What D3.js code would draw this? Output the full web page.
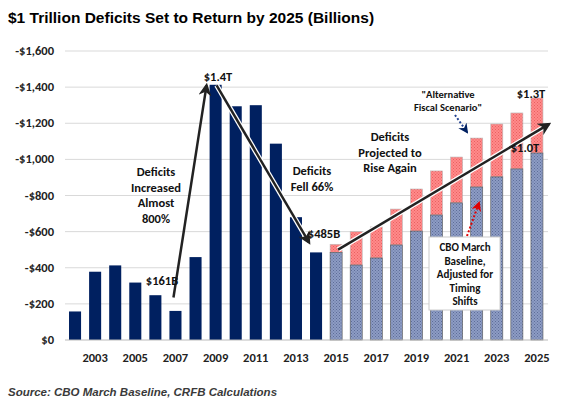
<!DOCTYPE html>
<html><head><meta charset="utf-8">
<script src="https://cdn.jsdelivr.net/npm/d3@7"></script>
<style>body{margin:0;background:#fff;font-family:Calibri,"Open Sans",Arial,sans-serif}</style>
</head><body><div id="wrapper"></div>
<script>
// historical deficits (billions)
const histYears = [2002,2003,2004,2005,2006,2007,2008,2009,2010,2011,2012,2013,2014]
const histValues = [158,378,413,318,248,161,459,1413,1294,1300,1087,680,485]
// projections: CBO baseline and alternative fiscal scenario
const projYears = [2015,2016,2017,2018,2019,2020,2021,2022,2023,2024,2025]
const baseValues = [485,415,454,526,603,692,759,847,903,947,1035]
const altValues = [530,600,626,725,836,936,1013,1118,1196,1257,1340]
const yTicks = [0,200,400,600,800,1000,1200,1400,1600]
const xTickYears = [2003,2005,2007,2009,2011,2013,2015,2017,2019,2021,2023,2025]

const width = 563, height = 408
const svg = d3.select("#wrapper").append("svg").attr("width", width).attr("height", height)
const defs = svg.append("defs")
function hatch(id, bg, fg) {
    const p = defs.append("pattern").attr("id", id).attr("patternUnits", "userSpaceOnUse")
        .attr("width", 3).attr("height", 3)
    p.append("rect").attr("width", 3).attr("height", 3).attr("fill", bg)
    p.append("rect").attr("width", 1).attr("height", 1).attr("fill", fg)
    p.append("rect").attr("x", 1.5).attr("y", 1.5).attr("width", 1).attr("height", 1).attr("fill", fg)
}
hatch("blueHatch", "#8d9cc4", "#5d6c98")
hatch("redHatch", "#ff8a8a", "#e86060")

const allYears = d3.range(2002, 2026)
const x = d3.scaleBand().domain(allYears).range([65, 547]).paddingInner(0.4).paddingOuter(0.2)
const y = d3.scaleLinear().domain([0, 1600]).range([340, 51])
const cx = yr => x(yr) + x.bandwidth() / 2

// grid
svg.append("g").selectAll("line").data(yTicks.slice(1)).join("line")
    .attr("x1", 65).attr("x2", 548).attr("y1", d => y(d)).attr("y2", d => y(d))
    .attr("stroke", "#d9d9d9")

// y labels
svg.append("g").selectAll("text").data(yTicks).join("text")
    .attr("x", 54).attr("y", d => y(d) + 4).attr("text-anchor", "end")
    .attr("font-size", 12.5).attr("font-weight", "bold").attr("fill", "#222")
    .text(d => d === 0 ? "$0" : "-$" + d3.format(",")(d))

// historical bars
svg.append("g").selectAll("rect").data(histYears).join("rect")
    .attr("x", d => x(d)).attr("width", x.bandwidth())
    .attr("y", (d, i) => y(histValues[i])).attr("height", (d, i) => y(0) - y(histValues[i]))
    .attr("fill", "#002060")

// projected bars
svg.append("g").selectAll("rect").data(projYears).join("rect")
    .attr("x", d => x(d)).attr("width", x.bandwidth())
    .attr("y", (d, i) => y(altValues[i])).attr("height", (d, i) => y(baseValues[i]) - y(altValues[i]))
    .attr("fill", "url(#redHatch)").attr("stroke", "#bbb").attr("stroke-width", 0.6)
svg.append("g").selectAll("rect").data(projYears).join("rect")
    .attr("x", d => x(d)).attr("width", x.bandwidth())
    .attr("y", (d, i) => y(baseValues[i])).attr("height", (d, i) => y(0) - y(baseValues[i]))
    .attr("fill", "url(#blueHatch)").attr("stroke", "#555").attr("stroke-width", 0.6)

// axis line
svg.append("line").attr("x1", 65).attr("x2", 548).attr("y1", y(0)).attr("y2", y(0)).attr("stroke", "#bbb")

// x labels
svg.append("g").selectAll("text").data(xTickYears).join("text")
    .attr("x", d => cx(d)).attr("y", 362).attr("text-anchor", "middle")
    .attr("font-size", 12.5).attr("font-weight", "bold").attr("fill", "#222").text(d => d)

// arrows
function marker(id, color, size) {
    defs.append("marker").attr("id", id).attr("viewBox", "0 0 10 10").attr("refX", 8).attr("refY", 5)
        .attr("markerWidth", size).attr("markerHeight", size).attr("orient", "auto")
        .attr("markerUnits", "userSpaceOnUse")
        .append("path").attr("d", "M0,0 L10,5 L0,10 L3,5 Z").attr("fill", color)
}
marker("blk", "#222", 13)
marker("blu", "#002060", 10)
marker("red", "#e00000", 10)
function arrow(x1, y1, x2, y2, opts = {}) {
    if (opts.outline) svg.append("line").attr("x1", x1).attr("y1", y1).attr("x2", x2).attr("y2", y2)
        .attr("stroke", "#fff").attr("stroke-width", 5)
    svg.append("line").attr("x1", x1).attr("y1", y1).attr("x2", x2).attr("y2", y2)
        .attr("stroke", opts.color || "#222").attr("stroke-width", opts.w || 2.5)
        .attr("stroke-dasharray", opts.dash || null).attr("marker-end", `url(#${opts.m || "blk"})`)
}
arrow(cx(2007) - 2, y(235), cx(2008) + 11, y(1410))
arrow(cx(2009) + 1, y(1410), cx(2014) - 7, y(540), { outline: true })
arrow(cx(2015) + 2, y(500), cx(2025) + 12, y(1195), { outline: true })
arrow(455, 115, 467, 132, { color: "#1f3f8f", w: 2, dash: "2,2", m: "blu" })
arrow(467, 236, 479, 203, { color: "#e00000", w: 2, dash: "2,2", m: "red" })

// CBO box
svg.append("rect").attr("x", 429).attr("y", 237).attr("width", 71).attr("height", 73)
    .attr("fill", "#fff").attr("stroke", "#ccc")

function label(lines, px, py, size, lh, opts = {}) {
    const t = svg.append("text").attr("text-anchor", opts.anchor || "middle")
        .attr("font-size", size).attr("font-weight", "bold").attr("fill", "#111")
    lines.forEach((l, i) => t.append("tspan").attr("x", px).attr("y", py + i * lh).text(l))
}
label(["$161B"], 162, 285, 12.5, 0)
label(["$1.4T"], 218, 81, 12.5, 0)
label(["$485B"], 324, 238, 12.5, 0)
label(["$1.3T"], 531, 98, 12.5, 0)
label(["$1.0T"], 525, 152, 12.5, 0)
label(["Deficits", "Increased", "Almost", "800%"], 156, 176, 12.5, 15.5)
label(["Deficits", "Fell 66%"], 312, 175, 12.5, 15.5)
label(["Deficits", "Projected to", "Rise Again"], 390, 141, 12.5, 15.5)
label(["\"Alternative", "Fiscal Scenario\""], 448, 98, 10.5, 12.5)
label(["CBO March", "Baseline,", "Adjusted for", "Timing", "Shifts"], 465, 251, 11, 13.5)

// title and source
svg.append("text").attr("x", 8).attr("y", 23).attr("font-size", 15.5).attr("font-weight", "bold")
    .attr("fill", "#000").attr("font-family", "Arial, Liberation Sans, sans-serif")
    .text("$1 Trillion Deficits Set to Return by 2025 (Billions)")
svg.append("text").attr("x", 8).attr("y", 396).attr("font-size", 11.5).attr("font-weight", "bold")
    .attr("font-style", "italic").attr("fill", "#3a3a3a").attr("font-family", "Arial, Liberation Sans, sans-serif")
    .text("Source: CBO March Baseline, CRFB Calculations")
</script></body></html>
